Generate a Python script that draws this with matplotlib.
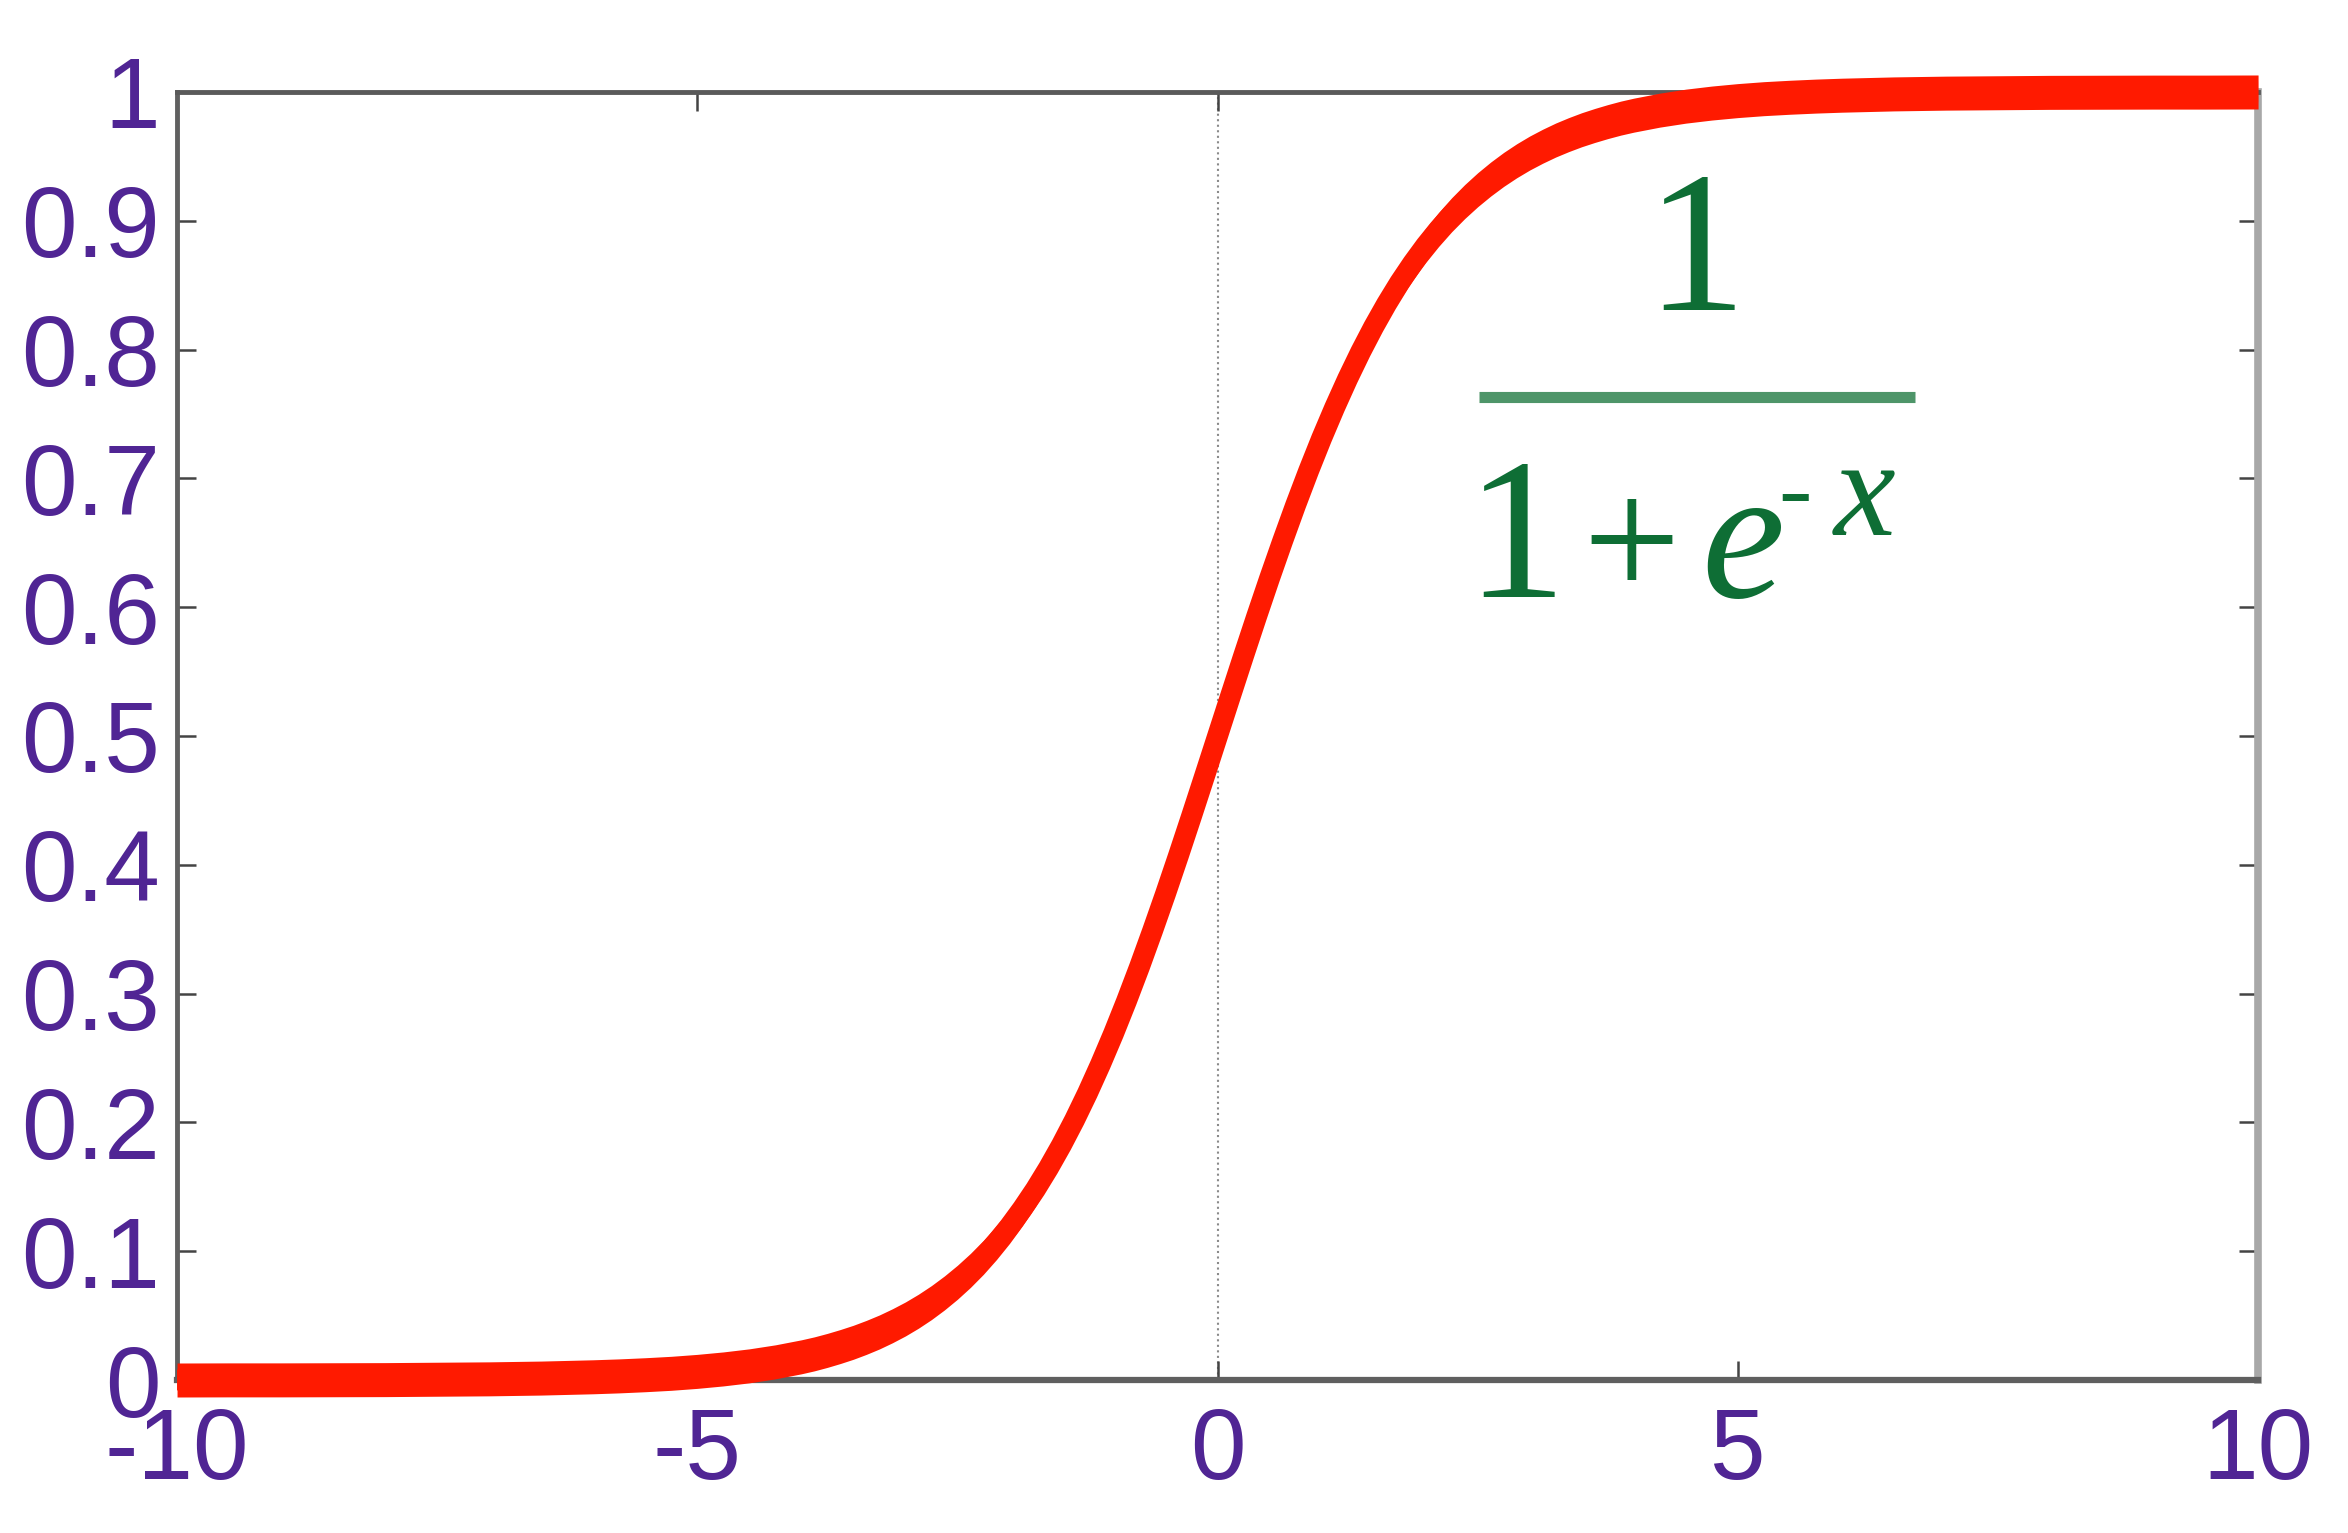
import numpy as np
import matplotlib
matplotlib.use("Agg")
import matplotlib.pyplot as plt

# Точки логистической кривой
# (дальние хвосты с шагом 0.5, переход 0.25, середина 0.125)
x_vals = np.concatenate([np.arange(-10, -6, 0.5),
                         np.arange(-6, -4, 0.25),
                         np.arange(-4, 4.0001, 0.125),
                         np.arange(4.25, 6.0001, 0.25),
                         np.arange(6.5, 10.0001, 0.5)])
y_vals = [
    # -10 .. -6.5
    0.0000, 0.0001, 0.0001, 0.0002, 0.0003, 0.0006, 0.0009, 0.0015,
    # -6 .. -4.25
    0.0025, 0.0032, 0.0041, 0.0052, 0.0067, 0.0086, 0.0110, 0.0141,
    # -4 .. 4
    0.0180, 0.0203, 0.0230, 0.0260, 0.0293, 0.0331, 0.0373, 0.0421,
    0.0474, 0.0534, 0.0601, 0.0676, 0.0759, 0.0851, 0.0953, 0.1067,
    0.1192, 0.1330, 0.1480, 0.1645, 0.1824, 0.2018, 0.2227, 0.2451,
    0.2689, 0.2942, 0.3208, 0.3487, 0.3775, 0.4073, 0.4378, 0.4688,
    0.5000,
    0.5312, 0.5622, 0.5927, 0.6225, 0.6513, 0.6792, 0.7058, 0.7311,
    0.7549, 0.7773, 0.7982, 0.8176, 0.8355, 0.8520, 0.8670, 0.8808,
    0.8933, 0.9047, 0.9149, 0.9241, 0.9324, 0.9399, 0.9466, 0.9526,
    0.9579, 0.9627, 0.9669, 0.9707, 0.9740, 0.9770, 0.9797, 0.9820,
    # 4.25 .. 6
    0.9859, 0.9890, 0.9914, 0.9933, 0.9948, 0.9959, 0.9968, 0.9975,
    # 6.5 .. 10
    0.9985, 0.9991, 0.9994, 0.9997, 0.9998, 0.9999, 0.9999, 1.0000,
]
y_vals = np.array(y_vals)

x_ticks = [-10, -5, 0, 5, 10]
y_ticks = [0, 0.1, 0.2, 0.3, 0.4, 0.5, 0.6, 0.7, 0.8, 0.9, 1]
y_labels = ['0', '0.1', '0.2', '0.3', '0.4', '0.5', '0.6', '0.7', '0.8', '0.9', '1']

label_color = '#502594'
green = '#0e6e35'
red = '#ff1a00'

plt.rcParams['axes.unicode_minus'] = False

fig = plt.figure(figsize=(23.48, 15.33), dpi=100)
ax = fig.add_axes([0.0754, 0.0998, 0.8863, 0.8402])

# пунктир по x = 0
ax.axvline(0, color='#8a8a8a', linestyle=':', linewidth=1.5, zorder=1)

# картинка растянута по вертикали: горизонтальные участки линии толще
half = 17 / 1288  # полутолщина по вертикали в долях оси
ax.fill_between(x_vals, y_vals - half, y_vals + half, color=red,
                linewidth=0, clip_on=False, zorder=3)
ax.plot(x_vals, y_vals, color=red, linewidth=15,
        solid_capstyle='butt', solid_joinstyle='round', clip_on=False, zorder=3)

ax.set_xlim(-10, 10)
ax.set_ylim(0, 1)
ax.set_xticks(x_ticks)
ax.set_xticklabels([str(v) for v in x_ticks])
ax.set_yticks(y_ticks)
ax.set_yticklabels(y_labels)

ax.tick_params(direction='in', length=14, width=1.8, color='#444444',
               top=True, right=True, labelcolor=label_color)
ax.tick_params(axis='y', pad=12)
ax.tick_params(axis='x', pad=19)
for lab in ax.get_xticklabels() + ax.get_yticklabels():
    lab.set_family(['Liberation Sans', 'DejaVu Sans'])
    lab.set_fontsize(72)

ax.spines['left'].set(color='#606060', linewidth=3.5)
ax.spines['bottom'].set(color='#5f5f5f', linewidth=4.5)
ax.spines['top'].set(color='#5a5a5a', linewidth=3.5)
ax.spines['right'].set(color='#a8a8a8', linewidth=5.5)

# формула 1 / (1 + e^-x)
serif = ['Liberation Serif', 'DejaVu Serif']
tr = ax.transAxes
ax.text(0.7295, 0.8307, '1', transform=tr, ha='center', va='baseline',
        fontsize=145, family=serif, color=green)
ax.plot([0.6257, 0.8352], [0.7632, 0.7632], transform=tr,
        color='#4e9569', linewidth=8, solid_capstyle='butt')
ax.text(0.643, 0.6079, '1', transform=tr, ha='center', va='baseline',
        fontsize=145, family=serif, color=green)
ax.text(0.699, 0.6079, '+', transform=tr, ha='center', va='baseline',
        fontsize=125, family=serif, color=green)
ax.text(0.7525, 0.6079, 'e', transform=tr, ha='center', va='baseline',
        fontsize=135, family=serif, style='italic', color=green)
ax.text(0.7775, 0.6856, '-', transform=tr, ha='center', va='center',
        fontsize=72, family=serif, color=green)
ax.text(0.811, 0.656, 'x', transform=tr, ha='center', va='baseline',
        fontsize=100, family=serif, style='italic', color=green)

fig.savefig('out.png', dpi=100, facecolor='white')
